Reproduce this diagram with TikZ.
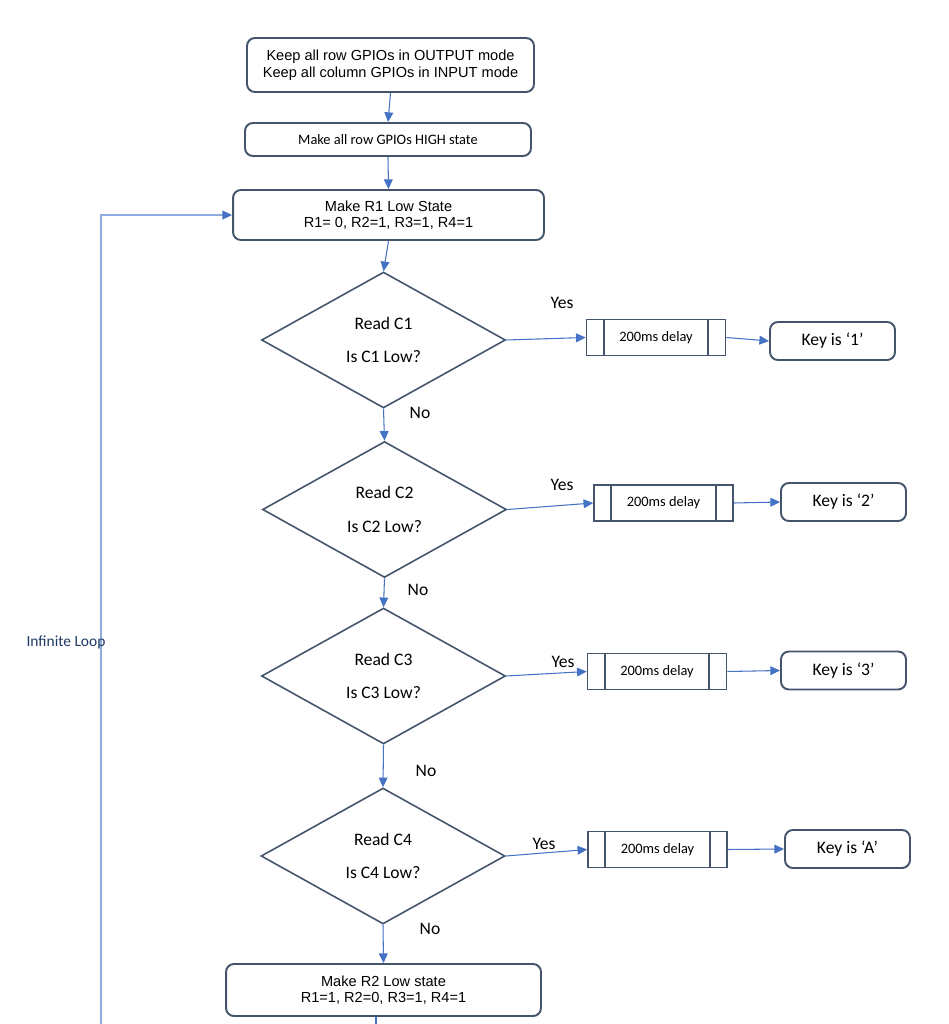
\documentclass[tikz,border=0pt]{standalone}
\usepackage{fontspec}
\setmainfont{Carlito}
\newfontfamily\arialfont{Liberation Sans}
\usetikzlibrary{arrows.meta,shapes.geometric}
\definecolor{boxline}{HTML}{44546A}
\definecolor{arrowblue}{HTML}{4472C4}
\definecolor{loopblue}{HTML}{8FAADC}
\definecolor{loopnavy}{HTML}{1F3864}
\tikzset{
  procbox/.style={draw=boxline, line width=1.1pt, rounded corners=4.5pt, align=center, inner sep=0pt},
  decision/.style={draw=boxline, line width=0.9pt, diamond, inner sep=0pt, minimum width=4.88cm, minimum height=2.72cm, align=center, font=\fontsize{10}{12}\selectfont},
  delaybox/.style={draw=boxline, line width=0.9pt, minimum width=2.78cm, minimum height=0.72cm, inner sep=0pt, font=\fontsize{8.2}{10}\selectfont},
  keybox/.style={draw=boxline, line width=1.1pt, rounded corners=4.5pt, minimum width=2.5cm, minimum height=0.76cm, font=\fontsize{10}{12}\selectfont},
  flow/.style={draw=arrowblue, line width=0.6pt, -{Triangle[length=5.5pt,width=5pt]}},
  answer/.style={font=\fontsize{10}{12}\selectfont}
}
\newcommand{\boxfont}{\arialfont\fontsize{8.3}{9.4}\selectfont}

\begin{document}
\begin{tikzpicture}[x=0.02cm, y=-0.02cm]
  \useasboundingbox (0,0) rectangle (949,1024);

  % setup boxes
  \node[procbox, minimum width=5.74cm, minimum height=1.08cm, font=\boxfont] (init) at (390.5,65)
    {Keep all row GPIOs in OUTPUT mode\\Keep all column GPIOs in INPUT mode};
  \node[procbox, minimum width=5.72cm, minimum height=0.66cm, font=\fontsize{8.2}{10}\selectfont] (allhigh) at (388,139.5)
    {Make all row GPIOs HIGH state};
  \node[procbox, minimum width=6.22cm, minimum height=1.0cm, font=\boxfont] (rowone) at (388.5,215)
    {Make R1 Low State\\R1= 0, R2=1, R3=1, R4=1};

  % column checks
  \node[decision] (colone) at (383.5,340) {Read C1\\[7.3pt]Is C1 Low?};
  \node[decision] (coltwo) at (384.5,509.5) {Read C2\\[7.3pt]Is C2 Low?};
  \node[decision] (colthree) at (383.5,676) {Read C3\\[7.3pt]Is C3 Low?};
  \node[decision] (colfour) at (383,856) {Read C4\\[7.3pt]Is C4 Low?};

  \node[procbox, minimum width=6.3cm, minimum height=1.04cm, font=\boxfont] (rowtwo) at (383.5,990)
    {Make R2 Low state\\R1=1, R2=0, R3=1, R4=1};

  % delays and keys
  \node[delaybox] (delayone) at (656,337.5) {200ms delay};
  \node[delaybox] (delaytwo) at (663.5,503) {200ms delay};
  \node[delaybox] (delaythree) at (657,671.5) {200ms delay};
  \node[delaybox] (delayfour) at (657.5,849.5) {200ms delay};
  \foreach \d in {delayone,delaytwo,delaythree,delayfour} {
    \draw[boxline, line width=0.9pt] ([xshift=0.36cm]\d.north west) -- ([xshift=0.36cm]\d.south west);
    \draw[boxline, line width=0.9pt] ([xshift=-0.36cm]\d.north east) -- ([xshift=-0.36cm]\d.south east);
  }
  \node[keybox] (keyone) at (832.5,341) {Key is ‘1’};
  \node[keybox] (keytwo) at (843.5,502) {Key is ‘2’};
  \node[keybox] (keythree) at (843.5,670.5) {Key is ‘3’};
  \node[keybox] (keyfour) at (847.5,849) {Key is ‘A’};

  % main flow
  \draw[flow] (init.south) -- (allhigh.north);
  \draw[flow] (allhigh.south) -- (rowone.north);
  \draw[flow] (rowone.south) -- (colone.north);
  \draw[flow] (colone.south) -- (coltwo.north);
  \draw[flow] (coltwo.south) -- (colthree.north);
  \draw[flow] (colthree.south) -- (colfour.north);
  \draw[flow] (colfour.south) -- (rowtwo.north);
  \coordinate (rowtwoend) at (376,1024);
  \draw[arrowblue, line width=0.6pt] (rowtwo.south -| rowtwoend) -- (rowtwoend);

  % yes branches
  \draw[flow] (colone.east) -- (delayone.west);
  \draw[flow] (coltwo.east) -- (delaytwo.west);
  \draw[flow] (colthree.east) -- (delaythree.west);
  \draw[flow] (colfour.east) -- (delayfour.west);
  \draw[flow] (delayone.east) -- (keyone.west);
  \draw[flow] (delaytwo.east) -- (keytwo.west);
  \draw[flow] (delaythree.east) -- (keythree.west);
  \draw[flow] (delayfour.east) -- (keyfour.west);

  \node[answer] (yesone) at (562,303) {Yes};
  \node[answer] (yestwo) at (562,485) {Yes};
  \node[answer] (yesthree) at (563,662) {Yes};
  \node[answer] (yesfour) at (544,844) {Yes};
  \node[answer] (noone) at (420,413) {No};
  \node[answer] (notwo) at (418,590) {No};
  \node[answer] (nothree) at (426,771) {No};
  \node[answer] (nofour) at (430,929) {No};

  % loop back
  \coordinate (loopstart) at (101,1024);
  \draw[flow, draw=loopblue, line width=0.8pt, -{Triangle[length=5.5pt,width=5pt,color=arrowblue]}] (loopstart) |- (rowone.west);
  \node[text=loopnavy, font=\fontsize{8.8}{11}\selectfont] (looplabel) at (66,642) {Infinite Loop};
\end{tikzpicture}
\end{document}
